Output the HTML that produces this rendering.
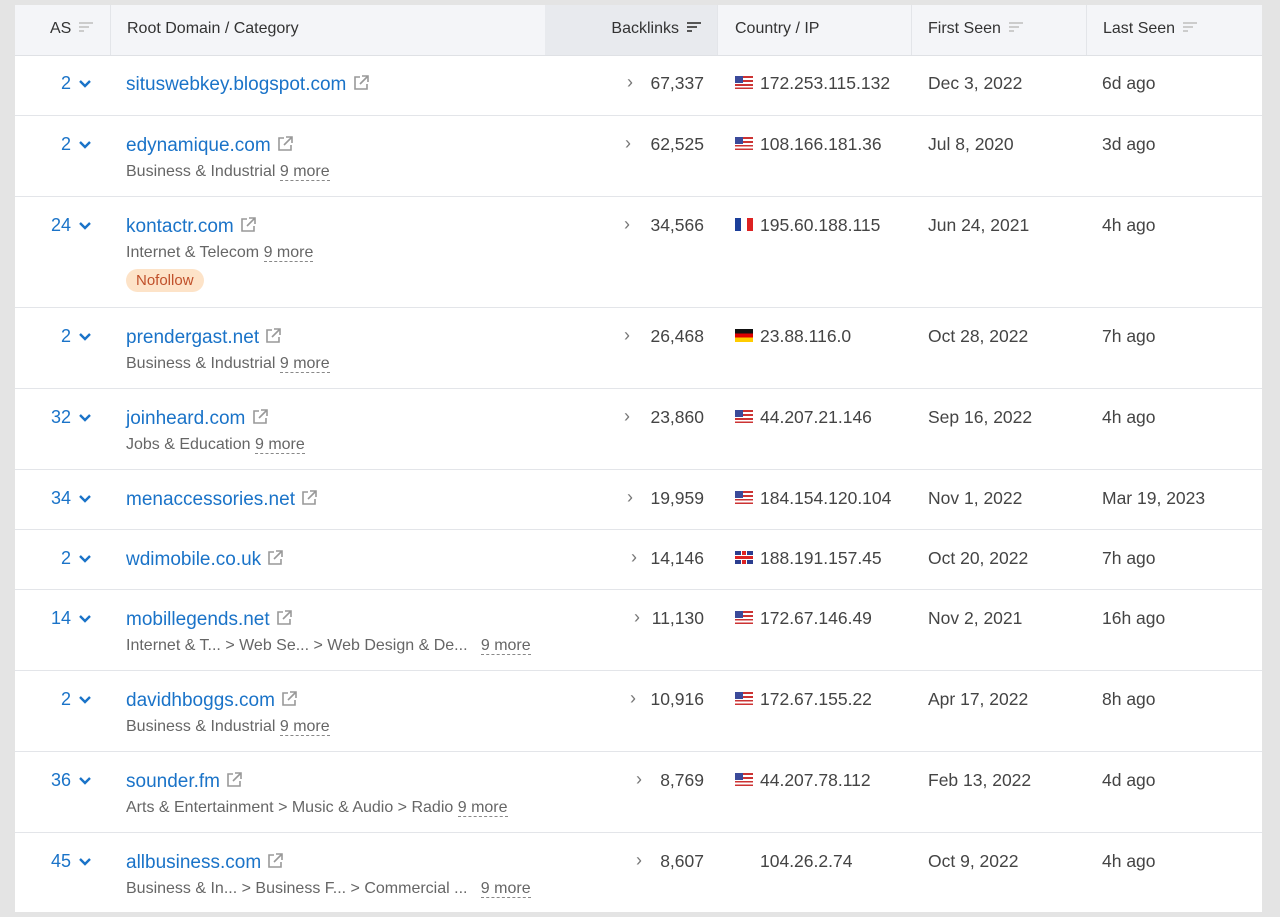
<!DOCTYPE html>
<html><head><meta charset="utf-8"><style>
body{margin:0;width:1280px;height:917px;background:#e4e4e4;font-family:"Liberation Sans",sans-serif;position:relative;overflow:hidden}
#t{position:absolute;left:15px;top:5px;width:1247px;height:907px;background:#fff;overflow:hidden}
.hd{position:absolute;left:0;top:0;width:1247px;height:50px;background:#f4f5f8;border-bottom:1px solid #dfe1e5}
.hd>div{position:absolute;top:0;height:50px;line-height:47px;font-size:16px;color:#333;white-space:nowrap}
.sep{border-left:1px solid #e3e5e9}
.so{display:inline-block;vertical-align:middle;margin-left:8px;position:relative;top:-2px}
.row{position:absolute;left:0;width:1247px;border-bottom:1px solid #e3e5e9}
.row>span{position:absolute;white-space:nowrap}
.as{right:1191px;top:18px;font-size:18px;color:#1a73c8;text-align:right}
.chev{left:63px;top:24px;width:14px;height:10px}
.dom{left:111px;top:19px;font-size:19px;color:#1a73c8}
.cat{left:111px;top:47px;font-size:16px;color:#666}
.more{border-bottom:1px dashed #888}
.bl{right:558px;top:18px;font-size:17.5px;color:#444}
.gt{top:17px;font-size:18px;color:#777}
.flag{left:720px;top:21px;width:18px;height:13px}
.ip{left:745px;top:18px;font-size:17.5px;color:#444}
.fs{left:913px;top:18px;font-size:17.5px;color:#444}
.ls{left:1087px;top:18px;font-size:17.5px;color:#444}
.us{background:linear-gradient(#c33 0 15%,#fff 15% 30%,#c33 30% 45%,#fff 45% 60%,#c33 60% 75%,#fff 75% 88%,#c33 88%)}
.us::before{content:"";position:absolute;left:0;top:0;width:8px;height:7px;background:#3b4a9a}
.fr{background:linear-gradient(90deg,#1c3f9a 0 33%,#fff 33% 66%,#d22 66%)}
.de{background:linear-gradient(#111 0 33%,#d00 33% 66%,#fc0 66%)}
.gb{background:#2b3d8f}
.gb::before{content:"";position:absolute;left:7px;top:0;width:4px;height:13px;background:#d22;box-shadow:0 0 0 1px #fff}
.gb::after{content:"";position:absolute;left:0;top:5px;width:18px;height:3px;background:#d22;box-shadow:0 0 0 1px #fff}
.nf{left:111px;top:72px;background:#fde3c8;color:#c0502a;font-size:15px;padding:3px 10px;border-radius:12px}
</style></head><body>
<svg width="0" height="0" style="position:absolute"><defs>
<symbol id="ch" viewBox="0 0 14 10"><path d="M2 2 L7 7 L12 2" fill="none" stroke="#1a73c8" stroke-width="2.4"/></symbol>
<symbol id="ex" viewBox="0 0 18 18"><path d="M8 3 H3 V15 H15 V10 M10 2 H16 V8 M16 2 L8 10" fill="none" stroke="#999" stroke-width="1.6"/></symbol>
<symbol id="sr" viewBox="0 0 14 12"><rect x="0" y="1" width="14" height="2"/><rect x="0" y="5" width="10" height="2"/><rect x="0" y="9" width="5" height="2"/></symbol>
</defs></svg>
<div id="t">
<div class="hd">
<div style="left:35px">AS<svg class="so" width="14" height="12" fill="#ccc"><use href="#sr"/></svg></div>
<div class="sep" style="left:95px;width:435px;padding-left:16px">Root Domain / Category</div>
<div style="left:530px;width:172px;background:#e8eaee;text-align:right"><span style="margin-right:16px">Backlinks<svg class="so" width="14" height="12" fill="#555"><use href="#sr"/></svg></span></div>
<div class="sep" style="left:702px;width:194px;padding-left:17px">Country / IP</div>
<div class="sep" style="left:896px;width:174px;padding-left:16px">First Seen<svg class="so" width="14" height="12" fill="#ccc"><use href="#sr"/></svg></div>
<div class="sep" style="left:1071px;padding-left:16px">Last Seen<svg class="so" width="14" height="12" fill="#ccc"><use href="#sr"/></svg></div>
</div>

<div class="row" style="top:50px;height:60px"><span class="as">2</span><svg class="chev" style="position:absolute"><use href="#ch"/></svg><span class="dom">situswebkey.blogspot.com <svg width="18" height="18" style="vertical-align:-2px"><use href="#ex"/></svg></span><span class="gt" style="left:612px">›</span><span class="bl">67,337</span><span class="flag us"></span><span class="ip">172.253.115.132</span><span class="fs">Dec 3, 2022</span><span class="ls">6d ago</span></div>
<div class="row" style="top:111px;height:80px"><span class="as">2</span><svg class="chev" style="position:absolute"><use href="#ch"/></svg><span class="dom">edynamique.com <svg width="18" height="18" style="vertical-align:-2px"><use href="#ex"/></svg></span><span class="cat">Business &amp; Industrial <span class="more">9 more</span></span><span class="gt" style="left:610px">›</span><span class="bl">62,525</span><span class="flag us"></span><span class="ip">108.166.181.36</span><span class="fs">Jul 8, 2020</span><span class="ls">3d ago</span></div>
<div class="row" style="top:192px;height:110px"><span class="as">24</span><svg class="chev" style="position:absolute"><use href="#ch"/></svg><span class="dom">kontactr.com <svg width="18" height="18" style="vertical-align:-2px"><use href="#ex"/></svg></span><span class="cat">Internet &amp; Telecom <span class="more">9 more</span></span><span class="nf">Nofollow</span><span class="gt" style="left:609px">›</span><span class="bl">34,566</span><span class="flag fr"></span><span class="ip">195.60.188.115</span><span class="fs">Jun 24, 2021</span><span class="ls">4h ago</span></div>
<div class="row" style="top:303px;height:80px"><span class="as">2</span><svg class="chev" style="position:absolute"><use href="#ch"/></svg><span class="dom">prendergast.net <svg width="18" height="18" style="vertical-align:-2px"><use href="#ex"/></svg></span><span class="cat">Business &amp; Industrial <span class="more">9 more</span></span><span class="gt" style="left:609px">›</span><span class="bl">26,468</span><span class="flag de"></span><span class="ip">23.88.116.0</span><span class="fs">Oct 28, 2022</span><span class="ls">7h ago</span></div>
<div class="row" style="top:384px;height:80px"><span class="as">32</span><svg class="chev" style="position:absolute"><use href="#ch"/></svg><span class="dom">joinheard.com <svg width="18" height="18" style="vertical-align:-2px"><use href="#ex"/></svg></span><span class="cat">Jobs &amp; Education <span class="more">9 more</span></span><span class="gt" style="left:609px">›</span><span class="bl">23,860</span><span class="flag us"></span><span class="ip">44.207.21.146</span><span class="fs">Sep 16, 2022</span><span class="ls">4h ago</span></div>
<div class="row" style="top:465px;height:59px"><span class="as">34</span><svg class="chev" style="position:absolute"><use href="#ch"/></svg><span class="dom">menaccessories.net <svg width="18" height="18" style="vertical-align:-2px"><use href="#ex"/></svg></span><span class="gt" style="left:612px">›</span><span class="bl">19,959</span><span class="flag us"></span><span class="ip">184.154.120.104</span><span class="fs">Nov 1, 2022</span><span class="ls">Mar 19, 2023</span></div>
<div class="row" style="top:525px;height:59px"><span class="as">2</span><svg class="chev" style="position:absolute"><use href="#ch"/></svg><span class="dom">wdimobile.co.uk <svg width="18" height="18" style="vertical-align:-2px"><use href="#ex"/></svg></span><span class="gt" style="left:616px">›</span><span class="bl">14,146</span><span class="flag gb"></span><span class="ip">188.191.157.45</span><span class="fs">Oct 20, 2022</span><span class="ls">7h ago</span></div>
<div class="row" style="top:585px;height:80px"><span class="as">14</span><svg class="chev" style="position:absolute"><use href="#ch"/></svg><span class="dom">mobillegends.net <svg width="18" height="18" style="vertical-align:-2px"><use href="#ex"/></svg></span><span class="cat">Internet &amp; T... &gt; Web Se... &gt; Web Design &amp; De... &nbsp; <span class="more">9 more</span></span><span class="gt" style="left:619px">›</span><span class="bl">11,130</span><span class="flag us"></span><span class="ip">172.67.146.49</span><span class="fs">Nov 2, 2021</span><span class="ls">16h ago</span></div>
<div class="row" style="top:666px;height:80px"><span class="as">2</span><svg class="chev" style="position:absolute"><use href="#ch"/></svg><span class="dom">davidhboggs.com <svg width="18" height="18" style="vertical-align:-2px"><use href="#ex"/></svg></span><span class="cat">Business &amp; Industrial <span class="more">9 more</span></span><span class="gt" style="left:615px">›</span><span class="bl">10,916</span><span class="flag us"></span><span class="ip">172.67.155.22</span><span class="fs">Apr 17, 2022</span><span class="ls">8h ago</span></div>
<div class="row" style="top:747px;height:80px"><span class="as">36</span><svg class="chev" style="position:absolute"><use href="#ch"/></svg><span class="dom">sounder.fm <svg width="18" height="18" style="vertical-align:-2px"><use href="#ex"/></svg></span><span class="cat">Arts &amp; Entertainment &gt; Music &amp; Audio &gt; Radio <span class="more">9 more</span></span><span class="gt" style="left:621px">›</span><span class="bl">8,769</span><span class="flag us"></span><span class="ip">44.207.78.112</span><span class="fs">Feb 13, 2022</span><span class="ls">4d ago</span></div>
<div class="row" style="top:828px;height:84px;border:0"><span class="as">45</span><svg class="chev" style="position:absolute"><use href="#ch"/></svg><span class="dom">allbusiness.com <svg width="18" height="18" style="vertical-align:-2px"><use href="#ex"/></svg></span><span class="cat">Business &amp; In... &gt; Business F... &gt; Commercial ... &nbsp; <span class="more">9 more</span></span><span class="gt" style="left:621px">›</span><span class="bl">8,607</span><span class="ip">104.26.2.74</span><span class="fs">Oct 9, 2022</span><span class="ls">4h ago</span></div>
</div>
</body></html>
